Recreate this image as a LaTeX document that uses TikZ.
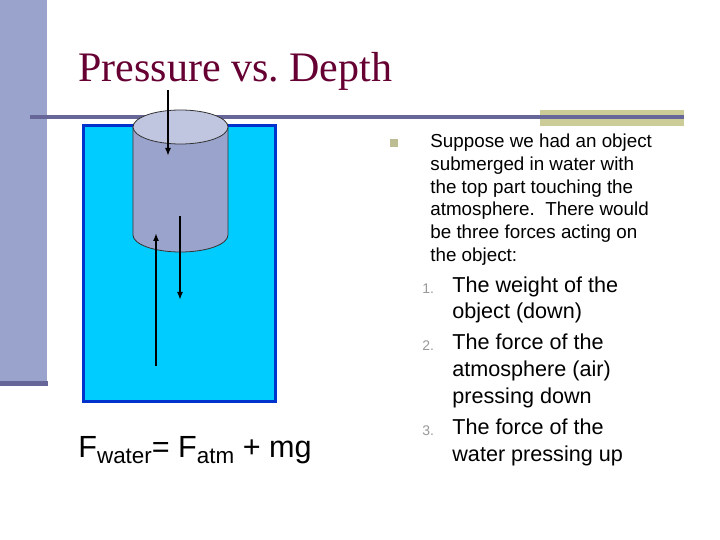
\documentclass[tikz,border=0pt]{standalone}
\usepackage{fontspec}
\setmainfont{Liberation Sans}
\newfontfamily\titlefont{Liberation Serif}
\usetikzlibrary{arrows.meta}
\definecolor{barblue}{HTML}{99A3CC}
\definecolor{linecol}{HTML}{666699}
\definecolor{olive}{HTML}{CCCC99}
\definecolor{water}{HTML}{00CCFF}
\definecolor{wborder}{HTML}{0033CC}
\definecolor{cyl}{HTML}{99A3CC}
\definecolor{cyltop}{HTML}{C0C6E0}
\definecolor{titlec}{HTML}{660033}
\definecolor{numc}{HTML}{999999}
\begin{document}
\begin{tikzpicture}[x=0.5pt,y=-0.5pt,
  body/.style={anchor=base west,inner sep=0pt,font=\fontsize{9.4}{10}\selectfont},
  item/.style={anchor=base west,inner sep=0pt,font=\fontsize{10.8}{12}\selectfont},
  num/.style={anchor=base west,inner sep=0pt,text=numc,font=\fontsize{7}{8}\selectfont},
  force/.style={-{Latex[length=4pt,width=3pt]},line width=0.8pt}]
\useasboundingbox (0,0) rectangle (720,540);
\fill[barblue] (0,0) rectangle (47,383);
\fill[linecol] (0,381) rectangle (48,386);
\fill[olive] (540,110) rectangle (684,126);
\draw[linecol,line width=2pt] (30,117) -- (684,117);
\node[anchor=base west,inner sep=0pt,text=titlec,font=\titlefont\fontsize{21}{24}\selectfont] (title) at (78,82) {Pressure vs.\ Depth};
\draw[wborder,line width=1.5pt,fill=water] (84,126) rectangle (276,402);
\fill[cyl] (133,127) -- (133,235) arc[start angle=180,end angle=0,x radius=47.5,y radius=17] -- (228,127) -- cycle;
\draw[black!80,line width=0.4pt] (133,127) -- (133,235) arc[start angle=180,end angle=0,x radius=47.5,y radius=17] -- (228,127);
\draw[black!80,line width=0.4pt,fill=cyltop] (180.5,127) ellipse[x radius=47.5,y radius=17];
\coordinate (a1) at (168,90); \coordinate (a2) at (168,156);
\coordinate (b1) at (180,216); \coordinate (b2) at (180,300);
\coordinate (c1) at (156,366); \coordinate (c2) at (156,233);
\draw[force] (a1) -- (a2);
\draw[force] (b1) -- (b2);
\draw[force] (c1) -- (c2);
\node[anchor=base west,inner sep=0pt,font=\fontsize{15.3}{18}\selectfont] (eq) at (78,458) {F\raisebox{-0.35ex}{\fontsize{11.2}{12}\selectfont water}= F\raisebox{-0.35ex}{\fontsize{11.2}{12}\selectfont atm} + mg};
\fill[olive!80!gray] (390,139) rectangle (398,147);
\node[body] (p1) at (430,148) {Suppose we had an object};
\node[body] (p2) at (430,171) {submerged in water with};
\node[body] (p3) at (430,194) {the top part touching the};
\node[body] (p4) at (430,216) {atmosphere.\ \ There would};
\node[body] (p5) at (430,239) {be three forces acting on};
\node[body] (p6) at (430,262) {the object:};
\node[num] (n1) at (422,294) {1.};
\node[item] (i1) at (452,293) {The weight of the};
\node[item] (i1b) at (452,319) {object (down)};
\node[num] (n2) at (422,351) {2.};
\node[item] (i2) at (452,350) {The force of the};
\node[item] (i2b) at (452,377) {atmosphere (air)};
\node[item] (i2c) at (452,404) {pressing down};
\node[num] (n3) at (422,436) {3.};
\node[item] (i3) at (452,435) {The force of the};
\node[item] (i3b) at (452,462) {water pressing up};
\end{tikzpicture}
\end{document}
